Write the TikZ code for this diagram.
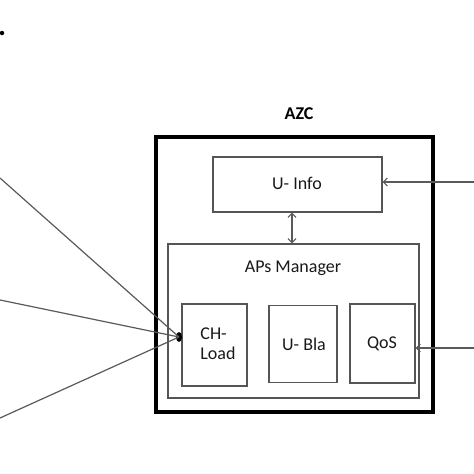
\documentclass[tikz,border=0pt]{standalone}
\usepackage{fontspec}
\setmainfont{Carlito}
\usetikzlibrary{arrows.meta,shapes.geometric}
\definecolor{boxgray}{HTML}{555555}
\definecolor{linegray}{HTML}{5A5A5A}
\tikzset{
  inbox/.style={draw=boxgray, line width=1.4pt, rectangle, inner sep=0pt},
  lbl/.style={font=\fontsize{18}{20}\selectfont, text=black!90},
  conn/.style={draw=linegray, line width=1.2pt},
  barb/.style={-{Straight Barb[length=4pt,width=8pt,line width=1pt]}},
}
\begin{document}
\begin{tikzpicture}[x=1pt,y=-1pt]
\useasboundingbox (0,0) rectangle (474,474);
\fill[white] (0,0) rectangle (474,474);
% outer box
\node[draw=black, line width=4pt, rectangle, inner sep=0pt, minimum width=277pt, minimum height=275pt] (azc) at (294.5,274.5) {};
\node[font=\fontsize{18}{20}\selectfont\bfseries] (azclbl) at (299,114) {AZC};
% inner boxes
\node[inbox, minimum width=169pt, minimum height=55pt] (uinfo) at (297.5,184.5) {};
\node[lbl] (uinfot) at (297,183) {U- Info};
\node[inbox, minimum width=251pt, minimum height=154pt] (aps) at (293.5,321) {};
\node[lbl] (apst) at (293,268) {APs Manager};
\node[inbox, minimum width=65pt, minimum height=82pt] (ch) at (214.5,345) {};
\node[lbl, align=left] (cht) at (218,344) {CH-\\Load};
\node[inbox, minimum width=68pt, minimum height=77pt] (ubla) at (303,344) {};
\node[lbl] (eblat) at (304,344) {U- Bla};
\node[inbox, minimum width=65pt, minimum height=79pt] (qos) at (382.5,343.5) {};
\node[lbl] (qost) at (382,344) {QoS};
% connector between U-Info and APs Manager
\coordinate (mid) at (292,0);
\draw[conn, {Straight Barb[length=4pt,width=8pt,line width=1pt]}-{Straight Barb[length=4pt,width=8pt,line width=1pt]}] (mid |- uinfo.south) -- (mid |- aps.north);
% inputs from right
\coordinate (in1) at (474,182);
\coordinate (in2) at (474,348);
\draw[conn, barb] (in1) -- (uinfo.east |- in1);
\draw[conn, barb] (in2) -- (qos.east |- in2);
% dot and lines from left
\node[ellipse, fill=black, minimum width=6pt, minimum height=10pt, inner sep=0pt] (dot) at (179,337) {};
\coordinate (a1) at (0,178);
\coordinate (a2) at (0,300);
\coordinate (a3) at (0,418);
\draw[conn] (a1) -- (dot.center);
\draw[conn] (a2) -- (dot.center);
\draw[conn] (a3) -- (dot.center);
% small dot top-left
\node[circle, fill=black, minimum size=4.5pt, inner sep=0pt] (tl) at (2,33) {};
\end{tikzpicture}
\end{document}
